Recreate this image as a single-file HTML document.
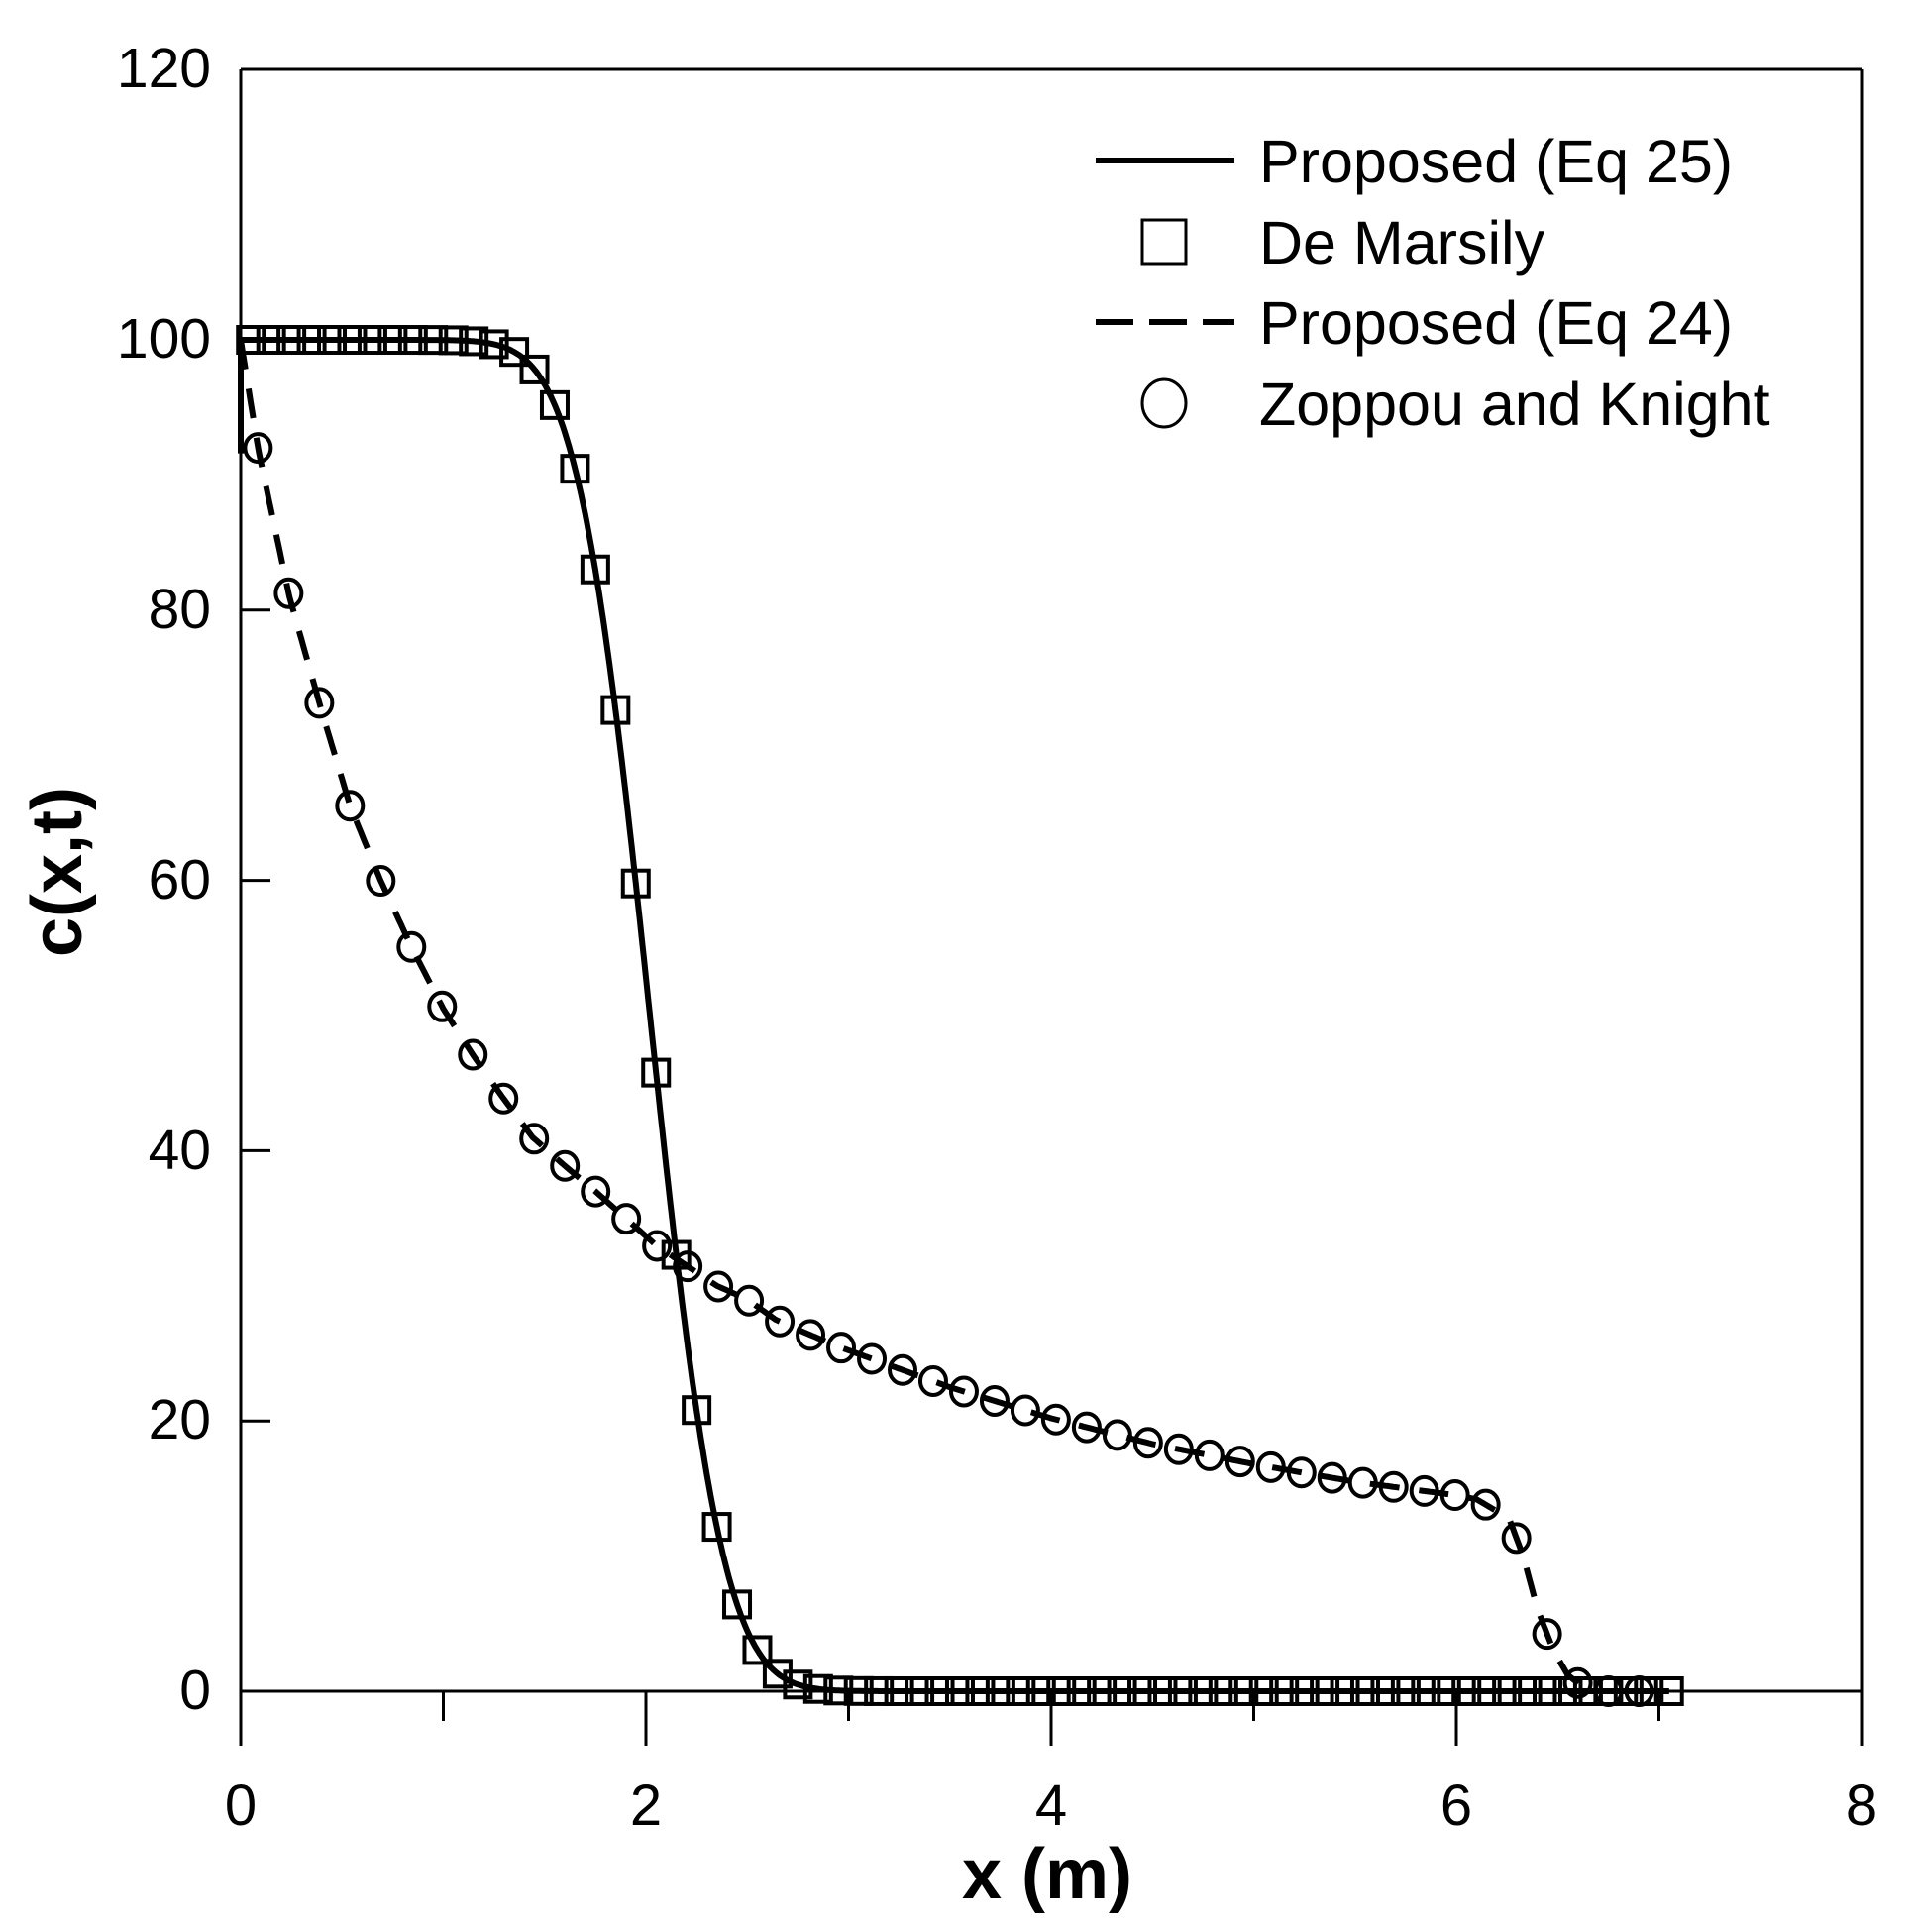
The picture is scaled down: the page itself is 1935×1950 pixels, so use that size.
<!DOCTYPE html>
<html><head><meta charset="utf-8"><style>
html,body{margin:0;padding:0;background:#fff;}
svg{display:block;}
text{font-family:"Liberation Sans",Arial,sans-serif;fill:#000;}
</style></head><body>
<svg id="s" width="1935" height="1950" xmlns="http://www.w3.org/2000/svg">
<rect width="1935" height="1950" fill="#fff"/>
<g stroke="#000" stroke-width="3" fill="none">
<line x1="243" y1="70" x2="1879" y2="70"/>
<line x1="243" y1="70" x2="243" y2="1762"/>
<line x1="1879" y1="70" x2="1879" y2="1762"/>
<line x1="243" y1="1707" x2="1879" y2="1707"/>
</g>
<g id="ticks" stroke="#000" stroke-width="3"></g>
<g font-size="57" text-anchor="end">
<text x="213" y="88">120</text>
<text x="213" y="361">100</text>
<text x="213" y="634">80</text>
<text x="213" y="907">60</text>
<text x="213" y="1180">40</text>
<text x="213" y="1452">20</text>
<text x="213" y="1725">0</text>
</g>
<g font-size="58" text-anchor="middle">
<text x="243" y="1842">0</text>
<text x="652" y="1842">2</text>
<text x="1061" y="1842">4</text>
<text x="1470" y="1842">6</text>
<text x="1879" y="1842">8</text>
</g>
<text x="1057" y="1916" font-size="72" font-weight="bold" text-anchor="middle">x (m)</text>
<text transform="translate(82,880) rotate(-90)" font-size="72" font-weight="bold" text-anchor="middle">c(x,t)</text>
<g id="data"></g>
<g font-size="61">
<line x1="1106" y1="162" x2="1246" y2="162" stroke="#000" stroke-width="6"/>
<text x="1271" y="184">Proposed (Eq 25)</text>
<rect x="1153" y="222" width="44" height="44" fill="none" stroke="#000" stroke-width="3"/>
<text x="1271" y="266">De Marsily</text>
<line x1="1106" y1="325" x2="1246" y2="325" stroke="#000" stroke-width="6" stroke-dasharray="38,16"/>
<text x="1271" y="347">Proposed (Eq 24)</text>
<ellipse cx="1175" cy="407" rx="22" ry="24" fill="none" stroke="#000" stroke-width="3"/>
<text x="1271" y="429">Zoppou and Knight</text>
</g>
</svg>
<script>
(function(){
var NS="http://www.w3.org/2000/svg";
function X(x){return 243+204.5*x;}
function Y(c){return 1707-13.64*c;}
function erfc(x){var z=Math.abs(x),t=1/(1+0.5*z);
var r=t*Math.exp(-z*z-1.26551223+t*(1.00002368+t*(0.37409196+t*(0.09678418+t*(-0.18628806+t*(0.27886807+t*(-1.13520398+t*(1.48851587+t*(-0.82215223+t*0.17087277)))))))));
return x>=0?r:2-r;}
function sol(x){return 50*erfc((x-2.02)/0.4);}
var T=[[0,100],[0.085,92],[0.24,81],[0.40,72.5],[0.54,65.5],[0.69,60],[0.845,55],[1.0,50.5],[1.15,47],[1.29,44],[1.44,41],[1.59,39],[1.75,37],[1.9,35],[2.05,33],[2.2,31.5],[2.35,30],[2.5,29],[2.64,27.5],[2.79,26.5],[2.95,25.5],[3.5,22.5],[4.0,20.2],[4.5,18.3],[5.0,16.8],[5.5,15.5],[6.0,14.5],[6.1,14.2],[6.26,12.8],[6.33,10],[6.40,6.1],[6.48,3],[6.55,1.2],[6.65,0],[7.05,0]];
function zk(x){for(var i=1;i<T.length;i++){if(x<=T[i][0]){var a=T[i-1],b=T[i];return a[1]+(b[1]-a[1])*(x-a[0])/(b[0]-a[0]);}}return 0;}
var g=document.getElementById("data"),tk=document.getElementById("ticks");
function el(n,a,p){var e=document.createElementNS(NS,n);for(var k in a)e.setAttribute(k,a[k]);(p||g).appendChild(e);return e;}
// ticks
for(var i=1;i<8;i++){el("line",{x1:X(i),y1:1707,x2:X(i),y2:(i%2==0?1762:1737)},tk);}
for(var c=20;c<=100;c+=20){el("line",{x1:243,y1:Y(c),x2:273,y2:Y(c)},tk);}
// solid line
var d="M"+X(0)+","+Y(91.6)+" L"+X(0)+","+Y(100);
for(var x=0.02;x<=7.05;x+=0.01){d+=" L"+X(x).toFixed(1)+","+Y(sol(x)).toFixed(1);}
el("path",{d:d,fill:"none",stroke:"#000","stroke-width":6});
// dashed
d="M"+X(0)+","+Y(100);
for(var x=0.01;x<=7.05;x+=0.01){d+=" L"+X(x).toFixed(1)+","+Y(zk(x)).toFixed(1);}
el("path",{d:d,fill:"none",stroke:"#000","stroke-width":6,"stroke-dasharray":"30,20"});
// squares
for(var k=0;k<=70;k++){var x=0.05+0.1*k;el("rect",{x:X(x)-13,y:Y(sol(x))-13,width:26,height:26,fill:"none",stroke:"#000","stroke-width":4});}
// circles
for(var k=0;k<=45;k++){var x=0.085+0.1515*k;if(x>7.05)break;el("ellipse",{cx:X(x),cy:Y(zk(x)),rx:13,ry:14,fill:"none",stroke:"#000","stroke-width":4});}
})();
</script>
</body></html>
